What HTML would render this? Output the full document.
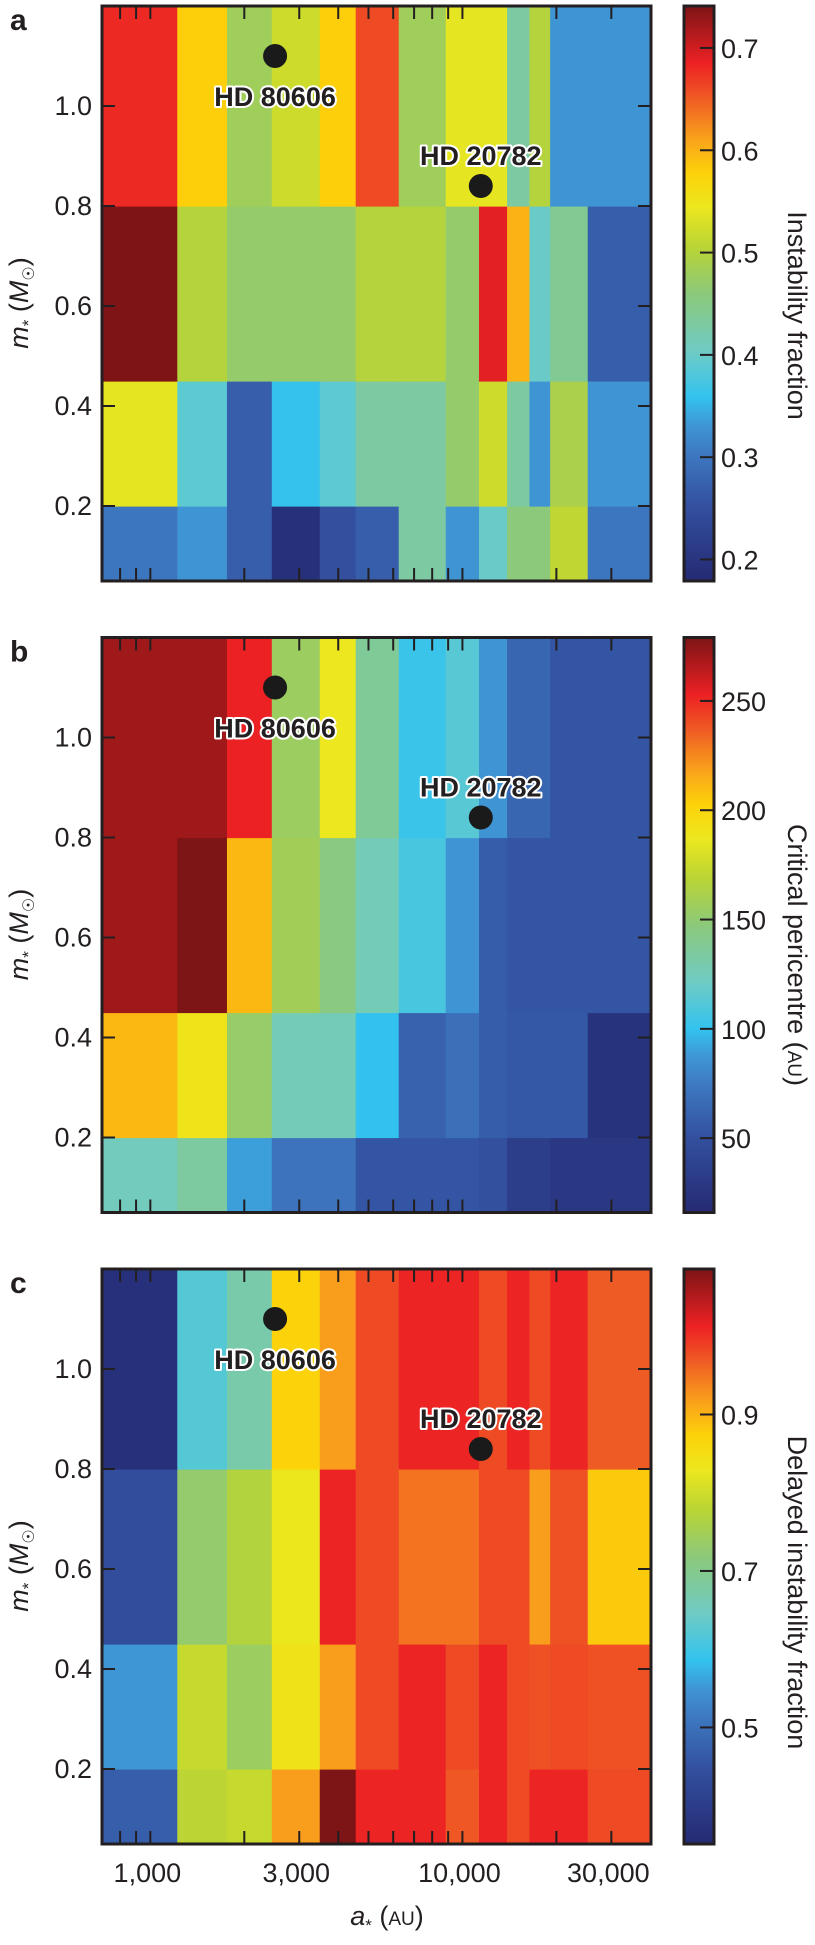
<!DOCTYPE html>
<html><head><meta charset="utf-8"><style>
html,body{margin:0;padding:0;background:#fff;}
svg{display:block;font-family:"Liberation Sans",Arial,sans-serif;}
</style></head><body>
<svg id="fig" width="815" height="1945" viewBox="0 0 815 1945" xmlns="http://www.w3.org/2000/svg">
<defs>
<linearGradient id="cmap" x1="0" y1="1" x2="0" y2="0">
<stop offset="0" stop-color="#252a73"/><stop offset="0.13" stop-color="#33509f"/><stop offset="0.22" stop-color="#3d78c0"/><stop offset="0.27" stop-color="#3f95d4"/><stop offset="0.32" stop-color="#33c3ef"/><stop offset="0.40" stop-color="#6fcbc4"/><stop offset="0.50" stop-color="#8cc97a"/><stop offset="0.58" stop-color="#b9d435"/><stop offset="0.65" stop-color="#ece71e"/><stop offset="0.71" stop-color="#fdd20a"/><stop offset="0.77" stop-color="#f9a11b"/><stop offset="0.84" stop-color="#ef5a24"/><stop offset="0.90" stop-color="#ed2124"/><stop offset="1" stop-color="#7d1416"/>
</linearGradient>
</defs>
</svg>
<script>
// ---- data ----
const colEdgesAU = [700,1220,1760,2450,3490,4550,6250,8840,11300,13900,16400,19100,25200,40200];
const rowEdgesMass = [0.05,0.2,0.45,0.8,1.2];
// rows listed bottom-to-top
const instabilityFraction = [
 [0.30,0.33,0.27,0.19,0.25,0.27,0.43,0.33,0.40,0.46,0.46,0.51,0.30],
 [0.54,0.39,0.27,0.36,0.39,0.43,0.43,0.47,0.52,0.43,0.33,0.49,0.33],
 [0.74,0.50,0.47,0.47,0.47,0.50,0.50,0.47,0.69,0.60,0.40,0.44,0.27],
 [0.68,0.58,0.48,0.52,0.58,0.66,0.48,0.54,0.54,0.43,0.50,0.33,0.33]
];
const criticalPericentre = [
 [124,134,90,71,71,53,53,53,50,34,34,29,29],
 [211,190,153,126,126,100,61,69,58,55,55,55,24],
 [271,279,211,158,145,126,108,87,58,53,53,53,53],
 [271,271,253,155,187,137,103,113,87,63,63,53,53]
];
const delayedFraction = [
 [0.47,0.78,0.79,0.92,1.086,1.01,1.01,0.97,1.01,0.98,1.01,1.01,0.98],
 [0.55,0.79,0.74,0.84,0.92,0.98,1.01,0.98,1.01,0.98,0.975,0.98,0.975],
 [0.44,0.73,0.77,0.83,1.01,0.98,0.95,0.95,0.98,0.98,0.92,0.975,0.88],
 [0.366,0.62,0.67,0.87,0.92,0.98,1.01,1.01,0.98,1.01,0.98,1.01,0.968]
];
const cbarRangeA = [0.179,0.741];
const cbarRangeB = [16,279];
const cbarRangeC = [0.351,1.086];
const cbarTicksA = [0.2,0.3,0.4,0.5,0.6,0.7];
const cbarTickLabelsA = ["0.2","0.3","0.4","0.5","0.6","0.7"];
const cbarTicksB = [50,100,150,200,250];
const cbarTickLabelsB = ["50","100","150","200","250"];
const cbarTicksC = [0.5,0.7,0.9];
const cbarTickLabelsC = ["0.5","0.7","0.9"];
const yTicks = [0.2,0.4,0.6,0.8,1.0];
const yTickLabels = ["0.2","0.4","0.6","0.8","1.0"];
const xMajorTicks = [1000,3000,10000,30000];
const xTickLabels = ["1,000","3,000","10,000","30,000"];
const xMinorTicks = [800,900,2000,4000,5000,6000,7000,8000,9000,20000];
const starNames = ["HD 80606","HD 20782"];
const starA = [2510,11450];
const starM = [1.1,0.84];

// ---- colormap ----
const stops=[[0,"#252a73"],[0.13,"#33509f"],[0.22,"#3d78c0"],[0.27,"#3f95d4"],[0.32,"#33c3ef"],[0.40,"#6fcbc4"],[0.50,"#8cc97a"],[0.58,"#b9d435"],[0.65,"#ece71e"],[0.71,"#fdd20a"],[0.77,"#f9a11b"],[0.84,"#ef5a24"],[0.90,"#ed2124"],[1,"#7d1416"]];
function hex(h){return [parseInt(h.substr(1,2),16),parseInt(h.substr(3,2),16),parseInt(h.substr(5,2),16)];}
function cmap(t){t=Math.max(0,Math.min(1,t));for(let i=1;i<stops.length;i++){if(t<=stops[i][0]){const a=stops[i-1],b=stops[i];const f=(t-a[0])/(b[0]-a[0]);const ca=hex(a[1]),cb=hex(b[1]);return "rgb("+ca.map((v,k)=>Math.round(v+(cb[k]-v)*f)).join(",")+")";}}return stops[stops.length-1][1];}

// ---- scales ----
const X0=102,X1=651,H=575,CB0=684,CB1=714;
const LA0=Math.log10(700),LA1=Math.log10(40200);
function xs(a){return X0+(Math.log10(a)-LA0)/(LA1-LA0)*(X1-X0);}
function ys(m,y0){return y0+(1.2-m)/1.15*H;}
const NS="http://www.w3.org/2000/svg";
const svg=document.getElementById('fig');
function el(tag,attrs,parent){const e=document.createElementNS(NS,tag);for(const k in attrs)e.setAttribute(k,attrs[k]);(parent||svg).appendChild(e);return e;}

const panels=[
 {y0:6,letter:"a",data:instabilityFraction,range:cbarRangeA,ticks:cbarTicksA,labels:cbarTickLabelsA,title:"Instability fraction",titleDy:22,key:"instability"},
 {y0:637.5,letter:"b",data:criticalPericentre,range:cbarRangeB,ticks:cbarTicksB,labels:cbarTickLabelsB,title:"Critical pericentre (",titleDy:30,key:"pericentre"},
 {y0:1269,letter:"c",data:delayedFraction,range:cbarRangeC,ticks:cbarTicksC,labels:cbarTickLabelsC,title:"Delayed instability fraction",titleDy:36,key:"delayed"}
];

panels.forEach(p=>{
 const g=el('g',{});
 
 
 const y0=p.y0;
 // cells
 p.data.forEach((row,ri)=>{
  row.forEach((v,ci)=>{
   const x=xs(colEdgesAU[ci]),xr=xs(colEdgesAU[ci+1]);
   const yt=ys(rowEdgesMass[ri+1],y0),yb=ys(rowEdgesMass[ri],y0);
   const t=(v-p.range[0])/(p.range[1]-p.range[0]);
   const r=el('rect',{x:x.toFixed(2),y:yt.toFixed(2),width:(xr-x+0.6).toFixed(2),height:(yb-yt+0.6).toFixed(2),fill:cmap(t)},g);
   
   
  });
 });
 // ticks
 const tk=el('g',{stroke:"#231f20","stroke-width":2},g);
 
 
 xMajorTicks.concat(xMinorTicks).forEach(a=>{const x=xs(a);
  el('line',{x1:x,x2:x,y1:y0,y2:y0+13},tk);el('line',{x1:x,x2:x,y1:y0+H,y2:y0+H-13},tk);});
 yTicks.forEach(m=>{const y=ys(m,y0);
  el('line',{x1:X0,x2:X0+13,y1:y,y2:y},tk);el('line',{x1:X1,x2:X1-13,y1:y,y2:y},tk);});
 // frame
 const fr=el('rect',{x:X0,y:y0,width:X1-X0,height:H,fill:"none",stroke:"#231f20","stroke-width":3},g);
 
 
 // y tick labels
 yTicks.forEach((m,i)=>{const t=el('text',{x:X0-10,y:ys(m,y0)+9,"font-size":27,"text-anchor":"end",fill:"#231f20"},g);t.textContent=yTickLabels[i];
  
  });
 // y axis title
 const yt=el('text',{transform:"translate(28,"+(y0+297)+") rotate(-90)","font-size":27,"text-anchor":"middle",fill:"#231f20"},g);
 
 
 yt.innerHTML='<tspan font-style="italic">m</tspan><tspan font-size="17" dy="6">*</tspan><tspan dy="-6"> (</tspan><tspan font-style="italic">M</tspan><tspan font-size="16" dy="6">☉</tspan><tspan dy="-6">)</tspan>';
 // letter
 const lt=el('text',{x:10,y:y0+24,"font-size":30,"font-weight":"bold",fill:"#231f20"},g);
 lt.textContent=p.letter;
 
 
 // stars
 starNames.forEach((nm,i)=>{
  const cx=xs(starA[i]),cy=ys(starM[i],y0);
  const c=el('ellipse',{cx:cx,cy:cy,rx:12,ry:12,fill:"#1a1a1a"},g);
  
  
  const ly=i===0?cy+50:cy-21;
  const t=el('text',{x:cx,y:ly,"font-size":27,"font-weight":"bold","text-anchor":"middle",fill:"#231f20",stroke:"#fff","stroke-width":4,"paint-order":"stroke","stroke-linejoin":"round"},g);
  t.textContent=nm;
  
  
 });
 // colorbar
 const cb=el('rect',{x:CB0,y:y0,width:CB1-CB0,height:H,fill:"url(#cmap)",stroke:"#231f20","stroke-width":3},g);
 
 
 p.ticks.forEach((v,i)=>{const y=y0+H-(v-p.range[0])/(p.range[1]-p.range[0])*H;
  el('line',{x1:CB1-14,x2:CB1,y1:y,y2:y,stroke:"#231f20","stroke-width":2},g);
  const t=el('text',{x:CB1+7,y:y+10,"font-size":27,fill:"#231f20"},g);t.textContent=p.labels[i];
  
  });
 const ct=el('text',{transform:"translate(788,"+(y0+H/2+p.titleDy)+") rotate(90)","font-size":27,"text-anchor":"middle",fill:"#231f20"},g);
 
 
 if(p.letter==="b"){ct.innerHTML='Critical pericentre (<tspan font-size="19">AU</tspan>)';}
 else ct.textContent=p.title;
});

// x tick labels & title (bottom panel only)
const yb=1269+H;
xMajorTicks.forEach((a,i)=>{const t=el('text',{x:xs(a)-3,y:yb+38,"font-size":27,"text-anchor":"middle",fill:"#231f20"});t.textContent=xTickLabels[i];
 
 });
const xt=el('text',{x:387,y:1925,"font-size":27,"text-anchor":"middle",fill:"#231f20"});


xt.innerHTML='<tspan font-style="italic">a</tspan><tspan font-size="17" dy="6">*</tspan><tspan dy="-6"> (</tspan><tspan font-size="19">AU</tspan>)';
</script>
</body></html>
